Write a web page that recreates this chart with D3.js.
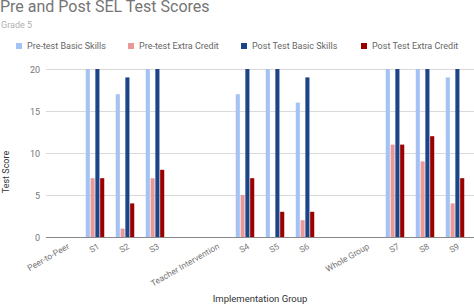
<!DOCTYPE html>
<html lang="en">
	<head>
		<meta charset="utf-8">
		<title>Pre and Post SEL Test Scores</title>
		<script type="text/javascript" src="https://cdn.jsdelivr.net/npm/d3@7"></script>
		<style>
			body { margin: 0; background: #fff; }
			text { font-family: Roboto, sans-serif; }
		</style>
	</head>
	<body>
		<script type="text/javascript">
			//Data
			var categories = ["Peer-to-Peer", "S1", "S2", "S3", "", "Teacher Intervention",
							"S4", "S5", "S6", "", "Whole Group", "S7", "S8", "S9"];
			var preBasic  = [null, 20, 17, 20, null, null, 17, 20, 16, null, null, 20, 20, 19];
			var preExtra  = [null,  7,  1,  7, null, null,  5,  0,  2, null, null, 11,  9,  4];
			var postBasic = [null, 20, 19, 20, null, null, 20, 20, 19, null, null, 20, 20, 20];
			var postExtra = [null,  7,  4,  8, null, null,  7,  3,  3, null, null, 11, 12,  7];
			var seriesNames = ["Pre-test Basic Skills", "Pre-test Extra Credit",
							"Post Test Basic Skills", "Post Test Extra Credit"];
			var colors = ["#a4c2f4", "#ea9999", "#1c4587", "#990000"];
			var yTicks = [0, 5, 10, 15, 20];

			var series = [preBasic, preExtra, postBasic, postExtra];

			//Width and height
			var w = 474;
			var h = 305;
			var plotLeft = 50, plotRight = 470, plotTop = 69, plotBottom = 237;

			var svg = d3.select("body")
						.append("svg")
						.attr("width", w)
						.attr("height", h);

			var x = d3.scaleBand()
						.domain(d3.range(categories.length))
						.range([plotLeft, plotRight]);

			var x1 = d3.scaleBand()
						.domain(d3.range(series.length))
						.range([0, 18.5])
						.paddingInner(0.15);

			var y = d3.scaleLinear()
						.domain([0, 20])
						.range([plotBottom, plotTop]);

			//Gridlines
			svg.selectAll("line.grid")
				.data(yTicks.slice(1))
				.enter()
				.append("line")
				.attr("class", "grid")
				.attr("x1", 46)
				.attr("x2", w)
				.attr("y1", function(d) { return y(d) + 0.5; })
				.attr("y2", function(d) { return y(d) + 0.5; })
				.attr("stroke", "#d9d9d9")
				.attr("stroke-width", 1);

			//Y tick labels
			svg.selectAll("text.ytick")
				.data(yTicks)
				.enter()
				.append("text")
				.attr("class", "ytick")
				.text(function(d) { return d; })
				.attr("x", 40)
				.attr("y", function(d) { return y(d) + 3.5; })
				.attr("text-anchor", "end")
				.attr("font-size", "9px")
				.attr("fill", "#777");

			//Bars
			var groups = svg.selectAll("g.group")
				.data(d3.range(categories.length))
				.enter()
				.append("g")
				.attr("class", "group")
				.attr("transform", function(i) {
					return "translate(" + (x(i) + x.bandwidth() / 2 - 9.25) + ",0)";
				});

			groups.selectAll("rect")
				.data(function(i) {
					return series.map(function(s, k) { return { k: k, v: s[i] }; })
								.filter(function(d) { return d.v !== null; });
				})
				.enter()
				.append("rect")
				.attr("x", function(d) { return x1(d.k); })
				.attr("y", function(d) { return y(d.v); })
				.attr("width", x1.bandwidth())
				.attr("height", function(d) { return plotBottom - y(d.v); })
				.attr("fill", function(d) { return colors[d.k]; });

			//Baseline
			svg.append("line")
				.attr("x1", 46)
				.attr("x2", w)
				.attr("y1", plotBottom + 0.5)
				.attr("y2", plotBottom + 0.5)
				.attr("stroke", "#888")
				.attr("stroke-width", 1);

			//X tick labels
			svg.selectAll("text.xtick")
				.data(d3.range(categories.length))
				.enter()
				.append("text")
				.attr("class", "xtick")
				.text(function(i) { return categories[i]; })
				.attr("text-anchor", "end")
				.attr("font-size", "8.5px")
				.attr("fill", "#777")
				.attr("transform", function(i) {
					return "translate(" + (x(i) + x.bandwidth() / 2 + 5) + "," + (plotBottom + 11) + ") rotate(-30)";
				});

			//Title
			svg.append("text")
				.text("Pre and Post SEL Test Scores")
				.attr("x", 0)
				.attr("y", 12)
				.attr("font-size", "16px")
				.attr("fill", "#757575");

			svg.append("text")
				.text("Grade 5")
				.attr("x", 1)
				.attr("y", 28)
				.attr("font-size", "9px")
				.attr("fill", "#b0b0b0");

			//Legend
			var legendX = [16, 128, 241, 361];
			var legend = svg.selectAll("g.legend")
				.data(seriesNames)
				.enter()
				.append("g")
				.attr("class", "legend")
				.attr("transform", function(d, i) { return "translate(" + legendX[i] + ",46)"; });

			legend.append("rect")
				.attr("x", 0)
				.attr("y", -3)
				.attr("width", 6)
				.attr("height", 6)
				.attr("fill", function(d, i) { return colors[i]; });

			legend.append("text")
				.text(function(d) { return d; })
				.attr("x", 11)
				.attr("y", 3)
				.attr("font-size", "9px")
				.attr("fill", "#666");

			//Axis titles
			svg.append("text")
				.text("Test Score")
				.attr("text-anchor", "middle")
				.attr("font-size", "9px")
				.attr("fill", "#333")
				.attr("transform", "translate(9,172) rotate(-90)");

			svg.append("text")
				.text("Implementation Group")
				.attr("x", 260)
				.attr("y", 302)
				.attr("text-anchor", "middle")
				.attr("font-size", "9.5px")
				.attr("fill", "#333");
		</script>
	</body>
</html>
